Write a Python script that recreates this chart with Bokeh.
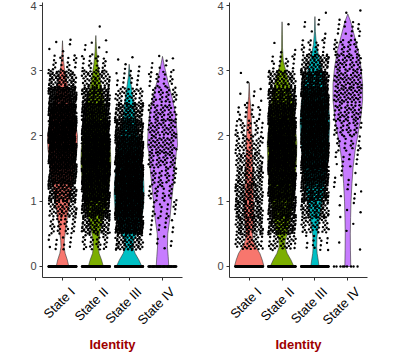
import math
from bokeh.plotting import figure
from bokeh.layouts import row
from bokeh.models import Range1d, FixedTicker, LinearAxis
from bokeh.embed import file_html
from bokeh.resources import INLINE

states = ["State I", "State II", "State III", "State IV"]
colors = ["#F8766D", "#7CAE00", "#00BFC4", "#C77CFF"]
axis_title = "Identity"
y_ticks = [0, 1, 2, 3, 4]

# violin outlines: y levels and relative half-widths (1 = widest)
L1_vy = [0, 0.1, 0.2, 0.3, 0.4, 0.55, 0.75, 1.0, 1.3, 1.6, 1.8, 2.0, 2.2, 2.4, 2.6, 2.85, 3.05, 3.2, 3.35, 3.46]
L1_vw = [0.42, 0.32, 0.18, 0.1, 0.12, 0.2, 0.32, 0.48, 0.68, 0.85, 0.97, 1.0, 0.88, 0.7, 0.5, 0.27, 0.12, 0.05, 0.02, 0.0]
L2_vy = [0, 0.1, 0.2, 0.3, 0.45, 0.6, 0.8, 1.0, 1.3, 1.6, 1.8, 2.1, 2.35, 2.6, 2.85, 3.1, 3.3, 3.45, 3.54]
L2_vw = [0.5, 0.38, 0.22, 0.16, 0.22, 0.35, 0.55, 0.75, 0.92, 1.0, 0.97, 0.83, 0.68, 0.5, 0.3, 0.13, 0.05, 0.02, 0.0]
L3_vy = [0, 0.1, 0.2, 0.3, 0.4, 0.5, 0.7, 0.9, 1.1, 1.3, 1.5, 1.75, 2.0, 2.25, 2.5, 2.7, 2.9, 3.1]
L3_vw = [0.85, 0.65, 0.4, 0.25, 0.3, 0.5, 0.8, 0.95, 1.0, 0.97, 0.9, 0.75, 0.58, 0.42, 0.3, 0.18, 0.06, 0.0]
L4_vy = [0, 0.15, 0.3, 0.5, 0.75, 1.0, 1.25, 1.5, 1.75, 1.85, 2.05, 2.35, 2.6, 2.85, 3.0, 3.1, 3.22]
L4_vw = [0.42, 0.38, 0.33, 0.35, 0.5, 0.6, 0.72, 0.82, 0.92, 1.0, 0.97, 0.86, 0.63, 0.35, 0.2, 0.1, 0.0]

R1_vy = [0, 0.1, 0.2, 0.3, 0.4, 0.5, 0.7, 0.9, 1.2, 1.5, 1.9, 2.2, 2.4, 2.6, 2.82]
R1_vw = [1.0, 0.88, 0.72, 0.45, 0.26, 0.22, 0.3, 0.32, 0.28, 0.24, 0.2, 0.15, 0.12, 0.04, 0.0]
R2_vy = [0, 0.1, 0.2, 0.3, 0.4, 0.5, 0.7, 1.0, 1.3, 1.6, 1.9, 2.2, 2.5, 2.8, 3.0, 3.15, 3.35, 3.55, 3.75]
R2_vw = [0.8, 0.6, 0.35, 0.2, 0.22, 0.36, 0.55, 0.75, 0.88, 0.97, 1.0, 0.88, 0.74, 0.5, 0.25, 0.08, 0.03, 0.02, 0.0]
R3_vy = [0, 0.1, 0.2, 0.3, 0.45, 0.6, 0.8, 1.0, 1.3, 1.6, 1.9, 2.2, 2.5, 2.75, 3.0, 3.2, 3.4, 3.6, 3.83]
R3_vw = [0.28, 0.22, 0.15, 0.12, 0.14, 0.22, 0.35, 0.5, 0.68, 0.83, 0.95, 1.0, 0.93, 0.75, 0.5, 0.28, 0.1, 0.03, 0.0]
R4_vy = [0, 0.25, 0.5, 0.75, 1.0, 1.27, 1.52, 1.78, 2.04, 2.29, 2.55, 2.8, 3.06, 3.31, 3.57, 3.75, 3.87]
R4_vw = [0.2, 0.18, 0.17, 0.19, 0.22, 0.28, 0.36, 0.5, 0.7, 0.89, 1.0, 1.0, 0.89, 0.7, 0.41, 0.2, 0.0]

# cell counts per expression bin (bins of 0.25 from 0.25 to 4.0) and at zero
bin_edges = [0.25, 0.5, 0.75, 1.0, 1.25, 1.5, 1.75, 2.0, 2.25, 2.5, 2.75, 3.0, 3.25, 3.5, 3.75, 4.0]
L1_counts = [12, 30, 60, 108, 156, 204, 240, 246, 222, 162, 78, 22, 5, 0, 0]
L2_counts = [30, 84, 144, 198, 234, 252, 246, 210, 168, 114, 58, 22, 7, 1, 0]
L3_counts = [72, 186, 234, 252, 246, 228, 192, 144, 94, 43, 14, 5, 0, 0, 0]
L4_counts = [7, 12, 18, 24, 32, 42, 48, 46, 40, 32, 20, 8, 0, 0, 0]
R1_counts = [45, 80, 88, 84, 72, 58, 44, 30, 16, 6, 2, 0, 0, 0, 0]
R2_counts = [42, 108, 144, 180, 216, 240, 246, 228, 186, 126, 72, 18, 3, 1, 0]
R3_counts = [14, 43, 79, 120, 162, 198, 228, 240, 228, 192, 134, 72, 22, 5, 2]
R4_counts = [2, 2, 5, 6, 8, 12, 20, 32, 42, 50, 48, 40, 28, 14, 3]
L_zeros = [120, 120, 150, 50]
R_zeros = [150, 120, 120, 9]

FONT = "Liberation Sans"
A1, A2 = 0.7548776662466927, 0.5698402909980532
JIT = 0.42
HALF = 0.45
Y_LO, Y_HI = -0.169, 4.046
X_LO, X_HI = 0.4, 4.6
LABEL_SHIFT = 0.3


def frac(v):
    return v - math.floor(v)


def make_panel(violins, counts, zeros, width, bl, br, offset):
    p = figure(width=width, height=363, x_range=Range1d(X_LO, X_HI), y_range=Range1d(Y_LO, Y_HI),
               output_backend="svg", toolbar_location=None,
               min_border_left=bl, min_border_right=br, min_border_top=2, min_border_bottom=86)
    p.extra_x_ranges = {"labels": Range1d(X_LO - LABEL_SHIFT, X_HI - LABEL_SHIFT)}
    p.grid.visible = False
    p.outline_line_color = None
    p.background_fill_color = "white"
    p.border_fill_color = "white"
    for i, (vy, vw) in enumerate(violins):
        c = i + 1
        xs = [c - HALF * w for w in vw] + [c + HALF * w for w in reversed(vw)]
        ys = list(vy) + list(reversed(vy))
        p.patch(xs, ys, fill_color=colors[i], line_color="#333333", line_width=0.6)
    for i in range(4):
        c = i + 1
        px, py = [], []
        t = offset + i * 977
        for j, n in enumerate(counts[i]):
            lo, hi = bin_edges[j], bin_edges[j + 1]
            for k in range(n):
                t += 1
                u = frac(0.5 + t * A1)
                v = frac(0.5 + t * A2)
                px.append(c - JIT + 2 * JIT * u)
                py.append(lo + (hi - lo) * v)
        for k in range(zeros[i]):
            t += 1
            u = frac(0.31 + t * 0.6180339887)
            px.append(c - JIT + 2 * JIT * u)
            py.append(0.0)
        p.scatter(px, py, size=2.4, marker="circle", fill_color="black", line_color=None)

    xa = p.xaxis[0]
    xa.ticker = FixedTicker(ticks=[1, 2, 3, 4])
    xa.major_label_overrides = {1: "", 2: "", 3: "", 4: ""}
    xa.major_label_standoff = 0
    ya = p.yaxis[0]
    ya.ticker = FixedTicker(ticks=y_ticks)
    ya.major_label_text_font = FONT
    ya.major_label_text_font_size = "11px"
    ya.major_label_text_color = "#444444"
    ya.major_label_standoff = 3
    for ax in (xa, ya):
        ax.axis_line_color = "#333333"
        ax.axis_line_width = 1
        ax.major_tick_line_color = "#333333"
        ax.major_tick_in = 0
        ax.major_tick_out = 3
        ax.minor_tick_line_color = None

    lab = LinearAxis(x_range_name="labels", ticker=FixedTicker(ticks=[1, 2, 3, 4]),
                     major_label_overrides={1: states[0], 2: states[1], 3: states[2], 4: states[3]},
                     axis_line_color=None, major_tick_line_color=None, minor_tick_line_color=None,
                     major_tick_in=0, major_tick_out=0, major_label_standoff=9,
                     major_label_orientation=math.pi / 4,
                     major_label_text_font=FONT, major_label_text_font_size="13px",
                     major_label_text_color="black",
                     axis_label=axis_title, axis_label_text_font=FONT,
                     axis_label_text_font_size="13px", axis_label_text_font_style="bold",
                     axis_label_text_color="#9E0000", axis_label_standoff=1)
    p.add_layout(lab, "below")
    return p


left = make_panel([(L1_vy, L1_vw), (L2_vy, L2_vw), (L3_vy, L3_vw), (L4_vy, L4_vw)],
                  [L1_counts, L2_counts, L3_counts, L4_counts], L_zeros, 200, 42, 18, 0)
right = make_panel([(R1_vy, R1_vw), (R2_vy, R2_vw), (R3_vy, R3_vw), (R4_vy, R4_vw)],
                   [R1_counts, R2_counts, R3_counts, R4_counts], R_zeros, 198, 29, 31, 5000)

layout = row(left, right)
open("out.html", "w").write(file_html(layout, INLINE))
